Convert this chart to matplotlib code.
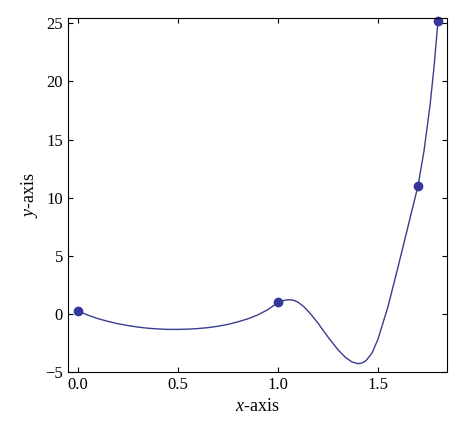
import matplotlib
matplotlib.use("Agg")
import matplotlib.pyplot as plt

plt.rcParams['font.family'] = ['Liberation Serif', 'DejaVu Serif']
plt.rcParams['mathtext.fontset'] = 'custom'
plt.rcParams['mathtext.it'] = 'Liberation Serif:italic'
plt.rcParams['mathtext.rm'] = 'Liberation Serif'

pts_x = [0.0, 1.0, 1.7, 1.8]
pts_y = [0.25, 1.0, 11.0, 25.2]

curve_x = [0.0, 0.05, 0.1, 0.15, 0.2, 0.25, 0.3, 0.35, 0.4, 0.45, 0.5, 0.55, 0.6, 0.65, 0.7, 0.75,
           0.8, 0.85, 0.9, 0.95, 1.0, 1.02, 1.04, 1.06, 1.08, 1.1, 1.13, 1.16, 1.2, 1.25, 1.3,
           1.34, 1.37, 1.4, 1.42, 1.44, 1.47, 1.5, 1.55, 1.6, 1.65, 1.7, 1.73, 1.76, 1.78, 1.8]
curve_y = [0.25, -0.12, -0.42, -0.66, -0.86, -1.02, -1.15, -1.25, -1.31, -1.35, -1.35, -1.33, -1.28,
           -1.2, -1.08, -0.92, -0.7, -0.44, -0.1, 0.35, 0.95, 1.1, 1.18, 1.2, 1.15, 1.0, 0.6, 0.05,
           -0.8, -2.0, -3.1, -3.8, -4.15, -4.3, -4.25, -4.05, -3.4, -2.2, 0.6, 4.0, 7.5, 11.0, 14.0,
           17.9, 21.2, 25.2]

fig = plt.figure(figsize=(4.74, 4.41), dpi=100)
ax = fig.add_axes([0.143, 0.157, 0.8, 0.803])
ax.plot(curve_x, curve_y, color='#3a3d8f', lw=1.0)
ax.plot(pts_x, pts_y, 'o', color='#35389a', ms=6, clip_on=False)
ax.set_xlim(-0.05, 1.845)
ax.set_ylim(-5, 25.5)
ax.set_xticks([0.0, 0.5, 1.0, 1.5])
ax.set_yticks([-5, 0, 5, 10, 15, 20, 25])
ax.tick_params(direction='in', top=True, right=True, labelsize=12)
ax.set_xlabel('$\\mathit{x}$-axis', fontsize=13)
ax.set_ylabel('$\\mathit{y}$-axis', fontsize=13)
fig.savefig('out.png', dpi=100)
